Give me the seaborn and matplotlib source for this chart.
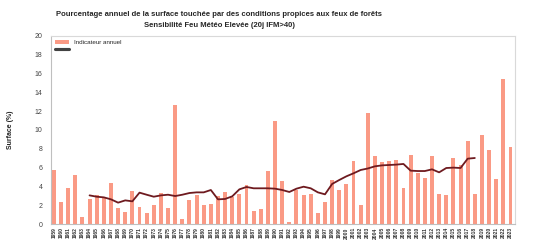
import pandas as pd
import seaborn as sns
import matplotlib
matplotlib.use("Agg")
import matplotlib.pyplot as plt

# annual indicator, 1959 -> 2023
years = list(range(1959, 2024))
annual = [5.8, 2.4, 3.9, 5.2, 0.8, 2.7, 3.1, 2.9, 4.4, 1.7,
          1.3, 3.5, 1.8, 1.2, 2.1, 3.3, 1.7, 12.65, 0.6, 2.6,
          3.15, 2.0, 2.2, 3.0, 3.4, 2.9, 3.25, 4.2, 1.4, 1.65,
          5.65, 11.0, 4.6, 0.3, 3.65, 3.1, 3.2, 1.2, 2.4, 4.65,
          3.65, 4.3, 6.75, 2.1, 11.8, 7.2, 6.65, 6.75, 6.85, 3.9,
          7.3, 5.4, 4.9, 7.2, 3.2, 3.15, 7.05, 6.3, 8.85, 3.25,
          9.45, 7.9, 4.8, 15.4, 8.15]

# smoothed trend, 1964 -> 2018
trend_years = list(range(1964, 2019))
trend = [3.07, 2.93, 2.86, 2.65, 2.3, 2.54, 2.44, 3.36, 3.14, 2.93,
         3.07, 3.14, 3.0, 3.14, 3.32, 3.39, 3.39, 3.64, 2.65, 2.69,
         2.97, 3.71, 3.96, 3.82, 3.82, 3.82, 3.78, 3.64, 3.43, 3.78,
         3.99, 3.82, 3.39, 3.18, 4.28, 4.7, 5.09, 5.41, 5.76, 5.92,
         6.15, 6.25, 6.29, 6.33, 6.4, 5.69, 5.65, 5.65, 5.83, 5.51,
         5.97, 6.01, 5.97, 6.96, 7.03]

bars = pd.DataFrame({"year": years, "value": annual})
line = pd.DataFrame({"year": trend_years, "value": trend})

sns.set_style("white")
plt.rcParams['font.family'] = ['Liberation Sans', 'DejaVu Sans']

fig = plt.figure(figsize=(5.43, 2.49), dpi=100)
ax = fig.add_axes([0.094, 0.099, 0.854, 0.758])

sns.barplot(data=bars, x="year", y="value", native_scale=True, width=0.55,
            color="#fa9a85", saturation=1, linewidth=0, ax=ax,
            label="Indicateur annuel")
sns.lineplot(data=line, x="year", y="value", color="#6e1a1f", linewidth=1.3,
             ax=ax, label="_trend")

ax.set_xlim(1958.6, 2023.6)
ax.set_ylim(0, 20)
ax.set_yticks(range(0, 21, 2))
ax.set_xticks(years)
ax.set_xticklabels([str(y) for y in years], rotation=90, fontsize=3.6,
                   fontweight="bold", color="#333333")
ax.tick_params(axis="y", labelsize=5, colors="#444444", length=0, pad=6)
ax.tick_params(axis="x", length=0, pad=2)
ax.set_xlabel("")
ax.set_ylabel("Surface (%)", fontsize=5, fontweight="bold", labelpad=15)

for side in ["top", "right"]:
    ax.spines[side].set_color("#d9d9d9")
for side in ["left", "bottom"]:
    ax.spines[side].set_color("#bfbfbf")
for s in ax.spines.values():
    s.set_linewidth(0.8)

handles, labels = ax.get_legend_handles_labels()
leg = ax.legend(handles=[handles[0], ax.lines[0]], labels=["Indicateur annuel", ""],
                loc="upper left", frameon=False, fontsize=4.5,
                handlelength=2.2, handleheight=0.5, borderaxespad=0.3,
                labelspacing=0.4)

fig.text(0.404, 0.935, "Pourcentage annuel de la surface touchée par des conditions propices aux feux de forêts",
         ha="center", fontsize=5.5, fontweight="bold")
fig.text(0.404, 0.893, "Sensibilité Feu Météo Elevée (20j IFM>40)",
         ha="center", fontsize=5.5, fontweight="bold")

fig.savefig("out.png", dpi=100)
